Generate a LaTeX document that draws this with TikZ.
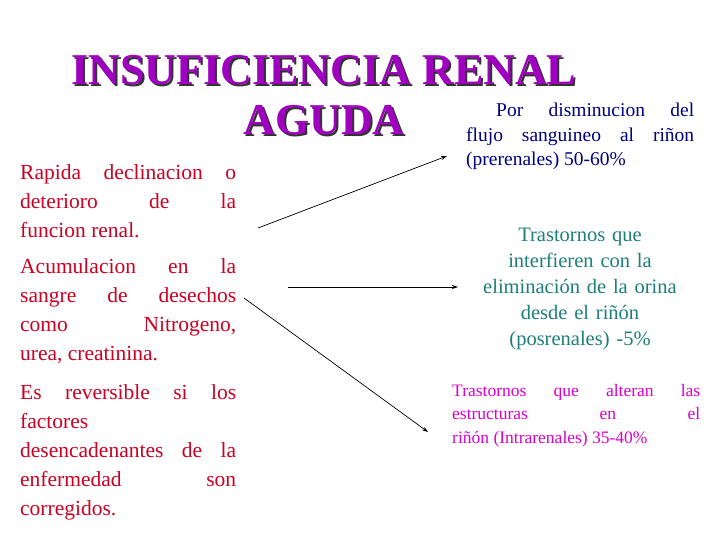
\documentclass[tikz,border=0pt]{standalone}
\usepackage{fontspec}
\setmainfont{Liberation Serif}
\usetikzlibrary{arrows.meta}
\newcommand\mynohyph{\hyphenpenalty10000 \exhyphenpenalty10000 }
\definecolor{ttl}{HTML}{A000C0}
\definecolor{lred}{HTML}{CC0022}
\definecolor{navy}{HTML}{000080}
\definecolor{tealc}{HTML}{1E7F78}
\definecolor{magc}{HTML}{DD00CC}
\tikzset{
  lefttext/.style={anchor=north west,inner sep=0pt,text width=216pt,align=justify,text=lred,font={\fontsize{21.5}{29}\selectfont\mynohyph}},
  arr/.style={-{Stealth[length=6pt,width=4pt]},line width=0.7pt},
}
\begin{document}
\begin{tikzpicture}[x=1pt,y=-1pt]
\useasboundingbox[fill=white] (0,0) rectangle (728,546);
\foreach \dx/\dy/\c in {2/2/black!80, 0/0/ttl}{
  \node[text=\c,font=\fontsize{44}{50}\selectfont\bfseries,align=center,inner sep=0pt] at (324+\dx,95+\dy) {INSUFICIENCIA RENAL\\AGUDA};
}
\node (p1) [lefttext] at (20,164) {Rapida declinacion o\linebreak deterioro de la\linebreak funcion renal.};
\node (p2) [lefttext] at (20,258) {Acumulacion en la\linebreak sangre de desechos\linebreak como Nitrogeno,\linebreak urea, creatinina.};
\node (p3) [lefttext] at (20,384) {Es reversible si los\linebreak factores\linebreak desencadenantes de la\linebreak enfermedad son\linebreak corregidos.};
\node (r1) [anchor=north west,inner sep=0pt,text width=228pt,align=justify,text=navy,font={\fontsize{19.5}{24.5}\selectfont\mynohyph}] at (466,103) {\hspace*{30pt}Por disminucion del\linebreak flujo sanguineo al riñon\linebreak (prerenales) 50-60\%};
\node (r2) [anchor=north,inner sep=0pt,text width=230pt,align=center,text=tealc,font=\fontsize{20.5}{26}\selectfont] at (580,228) {Trastornos que\\interfieren con la\\eliminación de la orina\\desde el riñón\\(posrenales) -5\%};
\node (r3) [anchor=north west,inner sep=0pt,text width=248pt,align=justify,text=magc,font={\fontsize{17.5}{23.5}\selectfont\mynohyph}] at (452,384) {Trastornos que alteran las\linebreak estructuras en el\linebreak riñón (Intrarenales) 35-40\%};
\coordinate (a1s) at (258,228); \coordinate (a1e) at (447,156);
\coordinate (a2s) at (288,287); \coordinate (a2e) at (458,287);
\coordinate (a3s) at (244,298); \coordinate (a3e) at (428,432);
\draw[arr] (a1s) -- (a1e);
\draw[arr] (a2s) -- (a2e);
\draw[arr] (a3s) -- (a3e);
\end{tikzpicture}
\end{document}
